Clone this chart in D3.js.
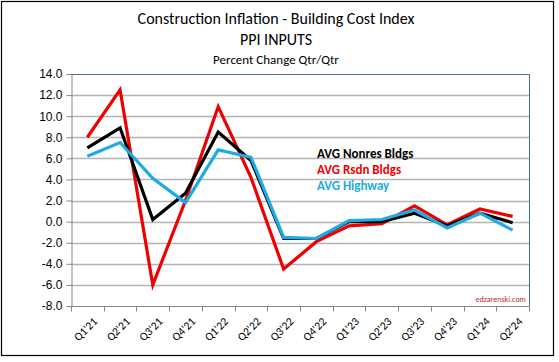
<!DOCTYPE html>
<html>
<head>
<meta charset="utf-8">
<script src="https://cdn.jsdelivr.net/npm/d3@7"></script>
<style>
  body { margin: 0; background: #fff; }
  svg { display: block; font-family: Calibri, Carlito, "Open Sans", "Liberation Sans", sans-serif; }
</style>
</head>
<body>
<div id="chart"></div>
<script>
// --- Data ---
const quarters = ["Q1'21", "Q2'21", "Q3'21", "Q4'21", "Q1'22", "Q2'22", "Q3'22",
                  "Q4'22", "Q1'23", "Q2'23", "Q3'23", "Q4'23", "Q1'24", "Q2'24"];
const nonresBldgs = [7.0, 8.9, 0.2, 2.7, 8.5, 5.8, -1.6, -1.6, 0.0, 0.0, 0.8, -0.4, 0.8, -0.1];
const rsdnBldgs   = [8.0, 12.5, -6.0, 2.0, 10.9, 4.2, -4.5, -1.9, -0.4, -0.2, 1.5, -0.3, 1.2, 0.5];
const highway     = [6.2, 7.5, 4.1, 1.8, 6.8, 6.1, -1.5, -1.6, 0.1, 0.2, 1.1, -0.6, 0.8, -0.8];
const yTicks = [-8, -6, -4, -2, 0, 2, 4, 6, 8, 10, 12, 14];

const series = [
  { name: "AVG Nonres Bldgs", values: nonresBldgs, color: "#000000" },
  { name: "AVG Rsdn Bldgs",   values: rsdnBldgs,   color: "#ee0000" },
  { name: "AVG Highway",      values: highway,     color: "#1eaae2" }
];

// --- Setup ---
const W = 559, H = 362;
const plot = { left: 71, right: 529, top: 74, bottom: 306 };

const svg = d3.select("#chart").append("svg")
    .attr("width", W).attr("height", H);

// outer frame
svg.append("rect")
    .attr("x", 1.5).attr("y", 1.5).attr("width", 552).attr("height", 354)
    .attr("fill", "#fff").attr("stroke", "#000").attr("stroke-width", 1.2);

// --- Scales ---
const x = d3.scaleBand().domain(quarters).range([plot.left, plot.right]);
const y = d3.scaleLinear().domain([-8, 14]).range([plot.bottom, plot.top]);

// --- Titles ---
svg.append("text").attr("x", 276).attr("y", 24).attr("text-anchor", "middle")
    .style("font-size", "16px").text("Construction Inflation - Building Cost Index");
svg.append("text").attr("x", 276).attr("y", 45).attr("text-anchor", "middle")
    .style("font-size", "16px").text("PPI INPUTS");
svg.append("text").attr("x", 276).attr("y", 64).attr("text-anchor", "middle")
    .style("font-size", "13px").text("Percent Change Qtr/Qtr");

// --- Gridlines ---
svg.append("g").selectAll("line").data(yTicks.filter(d => d > -8 && d < 14)).join("line")
    .attr("x1", plot.left).attr("x2", plot.right)
    .attr("y1", d => Math.round(y(d)) + 0.5).attr("y2", d => Math.round(y(d)) + 0.5)
    .attr("stroke", "#b4b4b4").attr("stroke-width", 1.3);

// top and right border of plot area
svg.append("path")
    .attr("d", `M${plot.left},${plot.top + 0.5}H${plot.right + 0.5}V${plot.bottom}`)
    .attr("fill", "none").attr("stroke", "#4a6d9c").attr("stroke-width", 1);

// --- Axes ---
const yAxis = svg.append("g")
    .attr("transform", `translate(${plot.left + 0.5},0)`)
    .call(d3.axisLeft(y).tickValues(yTicks).tickFormat(d3.format(".1f")).tickSize(5).tickSizeOuter(0));
yAxis.select(".domain").attr("stroke", "#868686");
yAxis.selectAll(".tick line").attr("stroke", "#868686");
yAxis.selectAll("text").style("font-size", "12px").attr("fill", "#000").attr("x", -9)
    .text(d => d < 0 ? "-" + d3.format(".1f")(-d) : d3.format(".1f")(d));

const xAxis = svg.append("g").attr("transform", `translate(0,${Math.round(y(-8)) + 0.5})`);
xAxis.append("line").attr("x1", plot.left).attr("x2", plot.right + 0.5)
    .attr("stroke", "#868686");
xAxis.selectAll(".tk").data(d3.range(quarters.length + 1)).join("line")
    .attr("class", "tk")
    .attr("x1", i => Math.round(plot.left + i * x.bandwidth()) + 0.5)
    .attr("x2", i => Math.round(plot.left + i * x.bandwidth()) + 0.5)
    .attr("y1", 0).attr("y2", 5).attr("stroke", "#868686");
xAxis.selectAll("text").data(quarters).join("text")
    .attr("transform", d => `translate(${x(d) + x.bandwidth() / 2 + 5},10) rotate(-45)`)
    .attr("text-anchor", "end").attr("dy", "0.7em")
    .style("font-size", "11.5px").text(d => d);

// --- Lines ---
const line = d3.line()
    .x((d, i) => x(quarters[i]) + x.bandwidth() / 2)
    .y(d => y(d));

// draw in order red, black, blue like the reference
[series[1], series[0], series[2]].forEach(s => {
  svg.append("path").datum(s.values)
      .attr("d", line)
      .attr("fill", "none")
      .attr("stroke", s.color)
      .attr("stroke-width", 3.2)
      .attr("stroke-linejoin", "miter");
});

// --- Legend ---
svg.append("g").selectAll("text").data(series).join("text")
    .attr("x", 317).attr("y", (d, i) => 158 + i * 16)
    .attr("fill", d => d.color)
    .style("font-size", "13px").style("font-weight", "bold")
    .text(d => d.name);

// watermark
svg.append("text").attr("x", 526).attr("y", 302).attr("text-anchor", "end")
    .attr("fill", "#c0282d").style("font-size", "8px").text("edzarenski.com");
</script>
</body>
</html>
